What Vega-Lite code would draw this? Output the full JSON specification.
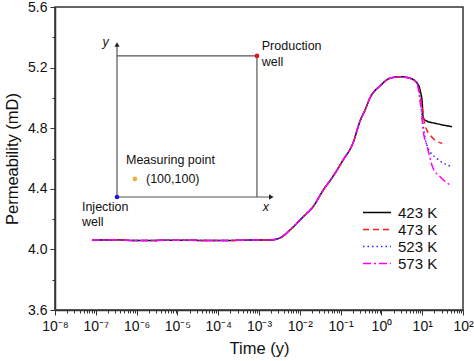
{
  "$schema": "https://vega.github.io/schema/vega-lite/v6.json",
  "width": 408,
  "height": 303,
  "autosize": {"type": "none"},
  "padding": {"left": 55, "top": 7, "right": 11, "bottom": 51},
  "background": "white",
  "config": {
    "view": {"stroke": "#333", "strokeWidth": 1.5},
    "font": "Liberation Sans",
    "axis": {
      "labelFont": "Liberation Sans", "labelFontSize": 14, "labelColor": "#111",
      "titleFont": "Liberation Sans", "titleFontSize": 16.5, "titleFontWeight": "normal", "titleColor": "#111",
      "domainColor": "#333", "domainWidth": 1.5, "tickColor": "#333", "tickWidth": 1, "grid": false
    },
    "legend": {"labelFont": "Liberation Sans", "labelFontSize": 15, "labelColor": "#111"}
  },
  "datasets": {
    "curves": [
      {"series":"423 K","t":8.1e-8,"k":4.06},{"series":"423 K","t":3.2e-7,"k":4.063},{"series":"423 K","t":1e-6,"k":4.058},{"series":"423 K","t":1e-5,"k":4.061},{"series":"423 K","t":1e-4,"k":4.058},{"series":"423 K","t":1e-3,"k":4.062},{"series":"423 K","t":1.86e-3,"k":4.062},{"series":"423 K","t":3.24e-3,"k":4.075},{"series":"423 K","t":5.75e-3,"k":4.128},{"series":"423 K","t":0.012,"k":4.214},{"series":"423 K","t":0.0209,"k":4.28},{"series":"423 K","t":0.0372,"k":4.39},{"series":"423 K","t":0.0646,"k":4.48},{"series":"423 K","t":0.115,"k":4.59},{"series":"423 K","t":0.2,"k":4.7},{"series":"423 K","t":0.302,"k":4.85},{"series":"423 K","t":0.398,"k":4.92},{"series":"423 K","t":0.525,"k":5.0},{"series":"423 K","t":0.933,"k":5.08},{"series":"423 K","t":1.62,"k":5.13},{"series":"423 K","t":2.88,"k":5.14},{"series":"423 K","t":5.01,"k":5.13},{"series":"423 K","t":7.41,"k":5.1},
      {"series":"423 K","t":8.91,"k":5.05},{"series":"423 K","t":10,"k":4.97},{"series":"423 K","t":10.5,"k":4.87},{"series":"423 K","t":12.3,"k":4.85},{"series":"423 K","t":22.9,"k":4.83},{"series":"423 K","t":53.7,"k":4.81},
      {"series":"473 K","t":8.1e-8,"k":4.06},{"series":"473 K","t":3.2e-7,"k":4.063},{"series":"473 K","t":1e-6,"k":4.058},{"series":"473 K","t":1e-5,"k":4.061},{"series":"473 K","t":1e-4,"k":4.058},{"series":"473 K","t":1e-3,"k":4.062},{"series":"473 K","t":1.86e-3,"k":4.062},{"series":"473 K","t":3.24e-3,"k":4.075},{"series":"473 K","t":5.75e-3,"k":4.128},{"series":"473 K","t":0.012,"k":4.214},{"series":"473 K","t":0.0209,"k":4.28},{"series":"473 K","t":0.0372,"k":4.39},{"series":"473 K","t":0.0646,"k":4.48},{"series":"473 K","t":0.115,"k":4.59},{"series":"473 K","t":0.2,"k":4.7},{"series":"473 K","t":0.302,"k":4.85},{"series":"473 K","t":0.398,"k":4.92},{"series":"473 K","t":0.525,"k":5.0},{"series":"473 K","t":0.933,"k":5.08},{"series":"473 K","t":1.62,"k":5.13},{"series":"473 K","t":2.88,"k":5.14},{"series":"473 K","t":5.01,"k":5.13},{"series":"473 K","t":7.41,"k":5.1},
      {"series":"473 K","t":8.91,"k":5.02},{"series":"473 K","t":10,"k":4.94},{"series":"473 K","t":11.7,"k":4.82},{"series":"473 K","t":17.4,"k":4.74},{"series":"473 K","t":30.9,"k":4.7},
      {"series":"523 K","t":8.1e-8,"k":4.06},{"series":"523 K","t":3.2e-7,"k":4.063},{"series":"523 K","t":1e-6,"k":4.058},{"series":"523 K","t":1e-5,"k":4.061},{"series":"523 K","t":1e-4,"k":4.058},{"series":"523 K","t":1e-3,"k":4.062},{"series":"523 K","t":1.86e-3,"k":4.062},{"series":"523 K","t":3.24e-3,"k":4.075},{"series":"523 K","t":5.75e-3,"k":4.128},{"series":"523 K","t":0.012,"k":4.214},{"series":"523 K","t":0.0209,"k":4.28},{"series":"523 K","t":0.0372,"k":4.39},{"series":"523 K","t":0.0646,"k":4.48},{"series":"523 K","t":0.115,"k":4.59},{"series":"523 K","t":0.2,"k":4.7},{"series":"523 K","t":0.302,"k":4.85},{"series":"523 K","t":0.398,"k":4.92},{"series":"523 K","t":0.525,"k":5.0},{"series":"523 K","t":0.933,"k":5.08},{"series":"523 K","t":1.62,"k":5.13},{"series":"523 K","t":2.88,"k":5.14},{"series":"523 K","t":5.01,"k":5.13},{"series":"523 K","t":7.41,"k":5.1},
      {"series":"523 K","t":8.91,"k":5.0},{"series":"523 K","t":10,"k":4.87},{"series":"523 K","t":11.7,"k":4.74},{"series":"523 K","t":13.8,"k":4.67},{"series":"523 K","t":22.9,"k":4.6},{"series":"523 K","t":47.9,"k":4.55},
      {"series":"573 K","t":8.1e-8,"k":4.06},{"series":"573 K","t":3.2e-7,"k":4.063},{"series":"573 K","t":1e-6,"k":4.058},{"series":"573 K","t":1e-5,"k":4.061},{"series":"573 K","t":1e-4,"k":4.058},{"series":"573 K","t":1e-3,"k":4.062},{"series":"573 K","t":1.86e-3,"k":4.062},{"series":"573 K","t":3.24e-3,"k":4.075},{"series":"573 K","t":5.75e-3,"k":4.128},{"series":"573 K","t":0.012,"k":4.214},{"series":"573 K","t":0.0209,"k":4.28},{"series":"573 K","t":0.0372,"k":4.39},{"series":"573 K","t":0.0646,"k":4.48},{"series":"573 K","t":0.115,"k":4.59},{"series":"573 K","t":0.2,"k":4.7},{"series":"573 K","t":0.302,"k":4.85},{"series":"573 K","t":0.398,"k":4.92},{"series":"573 K","t":0.525,"k":5.0},{"series":"573 K","t":0.933,"k":5.08},{"series":"573 K","t":1.62,"k":5.13},{"series":"573 K","t":2.88,"k":5.14},{"series":"573 K","t":5.01,"k":5.13},{"series":"573 K","t":7.41,"k":5.1},
      {"series":"573 K","t":8.91,"k":4.97},{"series":"573 K","t":9.5,"k":4.92},{"series":"573 K","t":10.5,"k":4.79},{"series":"573 K","t":13.2,"k":4.68},{"series":"573 K","t":18.2,"k":4.54},{"series":"573 K","t":27.5,"k":4.48},{"series":"573 K","t":47.9,"k":4.425}
    ],
    "inset_lines": [
      {"seg":"yaxis","t":3.31e-7,"k":4.346},{"seg":"yaxis","t":3.31e-7,"k":5.35},
      {"seg":"xaxis","t":3.31e-7,"k":4.346},{"seg":"xaxis","t":1.95e-3,"k":4.346},
      {"seg":"top","t":3.31e-7,"k":5.277},{"seg":"top","t":8.9e-4,"k":5.277},
      {"seg":"right","t":8.9e-4,"k":5.277},{"seg":"right","t":8.9e-4,"k":4.346}
    ],
    "inset_pts": [
      {"name":"y-arrow","t":3.31e-7,"k":5.352},
      {"name":"x-arrow","t":2.0e-3,"k":4.346},
      {"name":"production","t":8.9e-4,"k":5.277},
      {"name":"injection","t":3.31e-7,"k":4.346},
      {"name":"measuring","t":9.1e-7,"k":4.465}
    ],
    "inset_text": [
      {"txt":"Production","t":1.17e-3,"k":5.343},
      {"txt":"well","t":1.17e-3,"k":5.237},
      {"txt":"Measuring point","t":5.5e-7,"k":4.59},
      {"txt":"(100,100)","t":1.7e-6,"k":4.465},
      {"txt":"Injection","t":4.57e-8,"k":4.28},
      {"txt":"well","t":4.57e-8,"k":4.181}
    ],
    "inset_axis_text": [
      {"txt":"y","t":1.75e-7,"k":5.369},
      {"txt":"x","t":1.48e-3,"k":4.28}
    ]
  },
  "encoding": {
    "x": {
      "field": "t", "type": "quantitative",
      "scale": {"type": "log", "domain": [1e-8, 100], "nice": false},
      "axis": {
        "title": "Time (y)", "titlePadding": 7, "labelPadding": 4,
        "values": [1e-8,2e-8,3e-8,4e-8,5e-8,6e-8,7e-8,8e-8,9e-8,1e-7,2e-7,3e-7,4e-7,5e-7,6e-7,7e-7,8e-7,9e-7,1e-6,2e-6,3e-6,4e-6,5e-6,6e-6,7e-6,8e-6,9e-6,1e-5,2e-5,3e-5,4e-5,5e-5,6e-5,7e-5,8e-5,9e-5,1e-4,2e-4,3e-4,4e-4,5e-4,6e-4,7e-4,8e-4,9e-4,1e-3,2e-3,3e-3,4e-3,5e-3,6e-3,7e-3,8e-3,9e-3,0.01,0.02,0.03,0.04,0.05,0.06,0.07,0.08,0.09,0.1,0.2,0.3,0.4,0.5,0.6,0.7,0.8,0.9,1,2,3,4,5,6,7,8,9,10,20,30,40,50,60,70,80,90,100],
        "labelExpr": "abs(log(datum.value)/LN10 - round(log(datum.value)/LN10)) < 0.001 ? '10' + (round(log(datum.value)/LN10) < 0 ? '⁻' : '') + ['⁰','¹','²','³','⁴','⁵','⁶','⁷','⁸','⁹'][abs(round(log(datum.value)/LN10))] : ''",
        "tickSize": {"condition": {"test": "abs(log(datum.value)/LN10 - round(log(datum.value)/LN10)) < 0.001", "value": 5}, "value": 3},
        "labelOverlap": false, "labelFlush": false
      }
    },
    "y": {
      "field": "k", "type": "quantitative",
      "scale": {"domain": [3.6, 5.6], "nice": false, "zero": false},
      "axis": {
        "title": "Permeability (mD)", "titlePadding": 7, "labelPadding": 3,
        "values": [3.6,3.8,4.0,4.2,4.4,4.6,4.8,5.0,5.2,5.4,5.6],
        "labelExpr": "round(datum.value*10) % 4 == 0 ? format(datum.value, '.1f') : ''",
        "tickSize": {"condition": {"test": "round(datum.value*10) % 4 == 0", "value": 5}, "value": 3},
        "labelOverlap": false, "labelFlush": false
      }
    }
  },
  "layer": [
    {
      "data": {"name": "inset_lines"},
      "mark": {"type": "line", "color": "#555", "strokeWidth": 1.2},
      "encoding": {"detail": {"field": "seg"}}
    },
    {
      "data": {"name": "inset_pts"},
      "transform": [{"filter": "datum.name == 'y-arrow'"}],
      "mark": {"type": "point", "shape": "triangle-up", "filled": true, "color": "#222", "size": 28, "opacity": 1}
    },
    {
      "data": {"name": "inset_pts"},
      "transform": [{"filter": "datum.name == 'x-arrow'"}],
      "mark": {"type": "point", "shape": "triangle-right", "filled": true, "color": "#222", "size": 28, "opacity": 1}
    },
    {
      "data": {"name": "inset_pts"},
      "transform": [{"filter": "datum.name == 'production'"}],
      "mark": {"type": "circle", "color": "#e8141c", "size": 22, "opacity": 1}
    },
    {
      "data": {"name": "inset_pts"},
      "transform": [{"filter": "datum.name == 'injection'"}],
      "mark": {"type": "circle", "color": "#1a1ad8", "size": 22, "opacity": 1}
    },
    {
      "data": {"name": "inset_pts"},
      "transform": [{"filter": "datum.name == 'measuring'"}],
      "mark": {"type": "circle", "color": "#e8b040", "size": 22, "opacity": 1}
    },
    {
      "data": {"name": "inset_text"},
      "mark": {"type": "text", "align": "left", "baseline": "middle", "fontSize": 12.5, "color": "#111", "font": "Liberation Sans"},
      "encoding": {"text": {"field": "txt"}}
    },
    {
      "data": {"name": "inset_axis_text"},
      "mark": {"type": "text", "align": "center", "baseline": "middle", "fontSize": 12.5, "fontStyle": "italic", "color": "#111", "font": "Liberation Sans"},
      "encoding": {"text": {"field": "txt"}}
    },
    {
      "data": {"name": "curves"},
      "mark": {"type": "line", "strokeWidth": 1.5, "interpolate": "monotone"},
      "encoding": {
        "color": {
          "field": "series", "type": "nominal",
          "scale": {"domain": ["423 K","473 K","523 K","573 K"], "range": ["#000000","#ff1a1a","#2a2aff","#ff00ff"]},
          "legend": {
            "title": null, "orient": "none", "legendX": 307, "legendY": 197,
            "symbolType": "stroke", "symbolSize": 784, "symbolStrokeWidth": 1.5,
            "clipHeight": 17, "rowPadding": 0, "labelOffset": 6, "padding": 0
          }
        },
        "strokeDash": {
          "field": "series", "type": "nominal",
          "scale": {"domain": ["423 K","473 K","523 K","573 K"], "range": [[1,0],[6,4],[1.5,3],[8,3,2,3]]},
          "legend": {
            "title": null, "orient": "none", "legendX": 307, "legendY": 197,
            "symbolType": "stroke", "symbolSize": 784, "symbolStrokeWidth": 1.5,
            "clipHeight": 17, "rowPadding": 0, "labelOffset": 6, "padding": 0
          }
        }
      }
    }
  ]
}
